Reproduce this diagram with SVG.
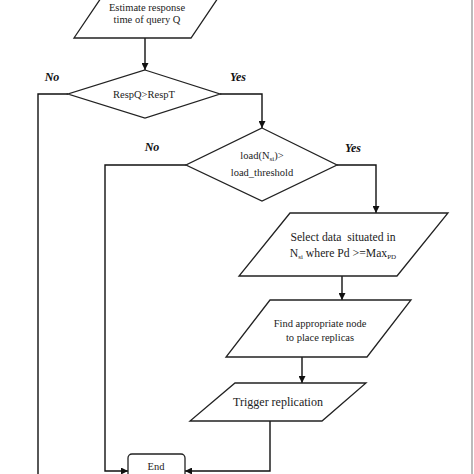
<svg xmlns="http://www.w3.org/2000/svg" width="474" height="474" viewBox="0 0 474 474">
<defs>
<marker id="arr" viewBox="0 0 10 10" refX="10" refY="5" markerWidth="7" markerHeight="7" markerUnits="userSpaceOnUse" orient="auto">
<path d="M0,0 L10,5 L0,10 z" fill="#111"/>
</marker>
<style>
.shape{fill:#fff;stroke:#222;stroke-width:1.3}
.conn{fill:none;stroke:#111;stroke-width:1.4}
.t{font-family:"Liberation Serif","Times New Roman",serif;font-size:10.5px;fill:#222;text-anchor:middle}
.big{font-size:11.7px}
.lbl{font-family:"Liberation Serif","Times New Roman",serif;font-size:12px;font-weight:bold;font-style:italic;fill:#111;text-anchor:middle}
</style>
</defs>
<rect width="474" height="474" fill="#fff"/>
<line x1="472" y1="0" x2="472" y2="474" stroke="#bbb" stroke-width="2"/>
<g id="connectors">
<line class="conn" x1="145" y1="38" x2="145" y2="70" marker-end="url(#arr)"/>
<polyline class="conn" points="68,94 38,94 38,480"/>
<polyline class="conn" points="220,94 262,94 262,128" marker-end="url(#arr)"/>
<polyline class="conn" points="186,165 105,165 105,471 128,471" marker-end="url(#arr)"/>
<polyline class="conn" points="337,165 376,165 376,213" marker-end="url(#arr)"/>
<line class="conn" x1="342" y1="276" x2="342" y2="300" marker-end="url(#arr)"/>
<line class="conn" x1="302" y1="357" x2="302" y2="383" marker-end="url(#arr)"/>
<polyline class="conn" points="270,421 270,471 185,471" marker-end="url(#arr)"/>
</g>
<g id="labels">
<text class="lbl" x="52" y="81">No</text>
<text class="lbl" x="238" y="81">Yes</text>
<text class="lbl" x="152" y="151">No</text>
<text class="lbl" x="353" y="152">Yes</text>
</g>
<g id="estimate">
<polygon class="shape" points="101,-2 218,-2 191,38 74,38"/>
<text class="t" x="147" y="11">Estimate response</text>
<text class="t" x="147" y="23">time of query Q</text>
</g>
<g id="respq">
<polygon class="shape" points="145,70 220,94 145,118 68,94"/>
<text class="t" x="144" y="98">RespQ&gt;RespT</text>
</g>
<g id="load">
<polygon class="shape" points="262,128 337,165 262,201 186,165"/>
<text class="t" x="262" y="159">load(N<tspan font-size="7" dy="2">si</tspan><tspan dy="-2">)&gt;</tspan></text>
<text class="t" x="262" y="176">load_threshold</text>
</g>
<g id="select">
<polygon class="shape" points="290,213 448,213 397,276 239,276"/>
<text class="t big" x="343" y="241">Select data&#160; situated in</text>
<text class="t big" x="343" y="257">N<tspan font-size="7" dy="2">si</tspan><tspan dy="-2"> where Pd &gt;=Max</tspan><tspan font-size="7" dy="2">PD</tspan></text>
</g>
<g id="find">
<polygon class="shape" points="270,300 411,300 367,357 226,357"/>
<text class="t" x="320" y="327">Find appropriate node</text>
<text class="t" x="320" y="341">to place replicas</text>
</g>
<g id="trigger">
<polygon class="shape" points="235,383 366,383 322,421 190,421"/>
<text class="t" x="278" y="406" style="font-size:12px">Trigger replication</text>
</g>
<g id="end">
<rect class="shape" x="128" y="454" width="57" height="40" rx="4"/>
<text class="t" x="156" y="470">End</text>
</g>
</svg>
